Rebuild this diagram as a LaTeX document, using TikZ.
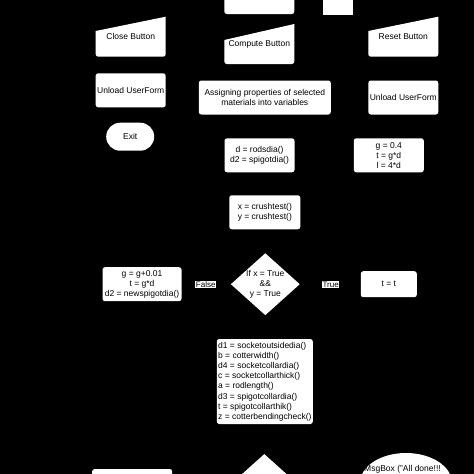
\documentclass[tikz,border=0pt]{standalone}
\usepackage{fontspec}
\setmainfont{Liberation Sans}
\usetikzlibrary{shapes.geometric,positioning}

\begin{document}
\begin{tikzpicture}[x=1pt,y=-1pt,line cap=round,line join=round,
  txt/.style={font=\fontsize{8.5}{10.2}\selectfont,text=black,align=center},
  procbox/.style={txt,fill=white,rounded corners=2.5pt,inner sep=1pt},
  btnlabel/.style={txt,inner sep=0pt},
  decision/.style={diamond,fill=white,minimum width=69pt,minimum height=62pt,inner sep=0pt},
  branchlabel/.style={font=\fontsize{8}{9}\selectfont,text=black,fill=white,inner sep=0.6pt}]
\useasboundingbox (0,0) rectangle (474,474);
\fill[black] (0,0) rectangle (474,474);
% top row (cut off)
\node[procbox,minimum width=70pt,minimum height=34pt] (topbox) at (259.3,-3) {};
\node[fill=white,minimum width=30pt,minimum height=30pt,inner sep=0pt] (startbox) at (338.3,-0.3) {};
% buttons
\fill[white] (95.7,31) [rounded corners=2.5pt] -- (95.7,56.7) -- (165.7,56.7) [sharp corners] -- (165.7,16.7) -- cycle;
\node[btnlabel] (closebtn) at (130.7,36.9) {Close Button};
\fill[white] (224.3,40) [rounded corners=2.5pt] -- (224.3,64) -- (294.3,64) [sharp corners] -- (294.3,24) -- cycle;
\node[btnlabel] (computebtn) at (259.3,44.2) {Compute Button};
\fill[white] (368.3,31) [rounded corners=2.5pt] -- (368.3,56.7) -- (438.3,56.7) [sharp corners] -- (438.3,16.7) -- cycle;
\node[btnlabel] (resetbtn) at (403.3,36.9) {Reset Button};
% second row
\node[procbox,minimum width=70pt,minimum height=34pt] (unloadleft) at (130.7,90.3) {Unload UserForm};
\node[procbox,minimum width=132pt,minimum height=34pt] (assign) at (264.8,97.5) {Assigning properties of selected\\materials into variables};
\node[procbox,minimum width=70pt,minimum height=34pt] (unloadright) at (403.3,97.5) {Unload UserForm};
\node[procbox,rounded corners=14pt,minimum width=48pt,minimum height=28pt] (exit) at (130.2,136.7) {Exit};
% variables
\node[procbox,minimum width=70pt,minimum height=34pt] (rods) at (259.5,155.3) {d = rodsdia()\\d2 = spigotdia()};
\node[procbox,minimum width=70pt,minimum height=34pt] (resetvals) at (388.8,155.3) {g = 0.4\\t = g*d\\l = 4*d};
\node[procbox,minimum width=71pt,minimum height=34pt] (crush) at (264.8,212.3) {x = crushtest()\\y = crushtest()};
% decision
\node[decision] (cond) at (265.3,284.2) {};
\node[txt,inner sep=0pt,font=\fontsize{8.5}{9.7}\selectfont] (condtext) at (cond) {If x = True\\\&\&\\y = True};
\node[procbox,minimum width=79pt,minimum height=34pt] (newvals) at (142,284.2) {g = g+0.01\\t = g*d\\d2 = newspigotdia()};
\node[procbox,minimum width=56pt,minimum height=26pt] (keep) at (388.8,284.2) {t = t};
\node[branchlabel] (falselbl) at (205.7,284.5) {False};
\node[branchlabel] (truelbl) at (330.7,284.5) {True};
% results
\node[procbox,align=left,minimum width=96pt,minimum height=85pt,inner sep=1.2pt] (results) at (264.8,381.5) {d1 = socketoutsidedia()\\b = cotterwidth()\\d4 = socketcollardia()\\c = socketcollarthick()\\a = rodlength()\\d3 = spigotcollardia()\\t = spigotcollarthik()\\z = cotterbendingcheck()};
% bottom row (cut off)
\node[procbox,minimum width=80pt,minimum height=34pt] (bottombox) at (132.2,486) {};
\node[decision] (finalcheck) at (264.3,485) {};
\node[ellipse,fill=white,minimum width=92pt,minimum height=60pt] (msgbox) at (406,483) {};
\node[txt,inner sep=0pt] (msgtext) at (402.5,469.6) {MsgBox ("All done!!!};
\end{tikzpicture}
\end{document}
